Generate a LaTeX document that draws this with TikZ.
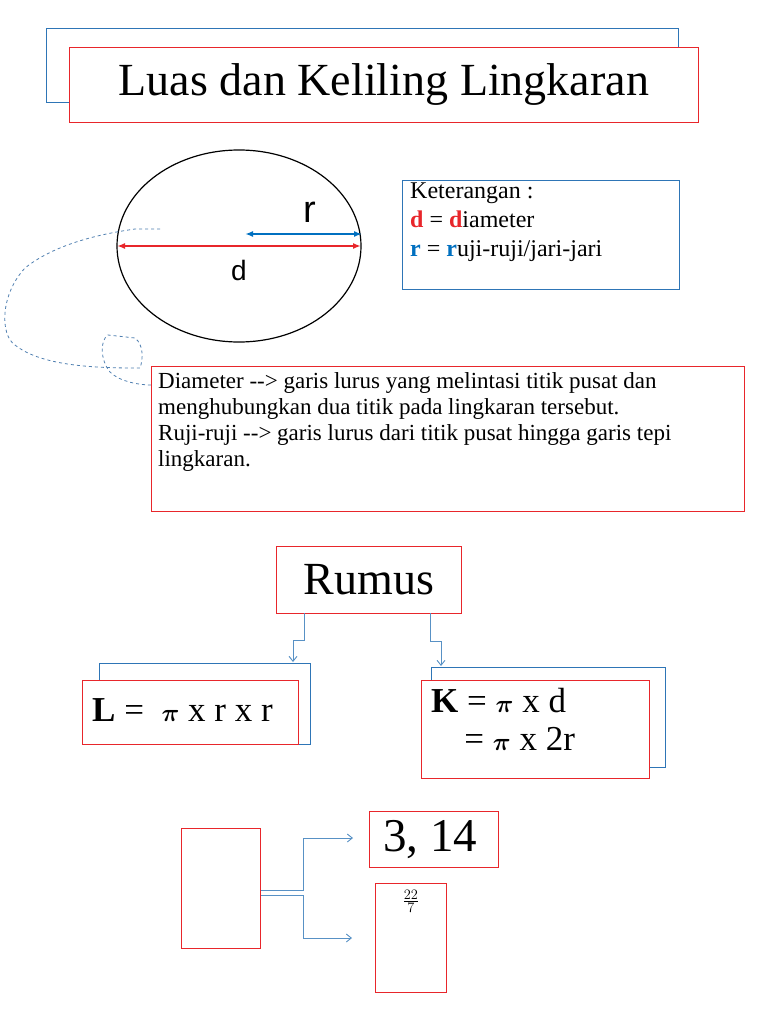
\documentclass[tikz,border=0pt]{standalone}
\usepackage{fontspec}
\usepackage{amsmath,bm}
\setmainfont{Liberation Serif}
\newfontfamily\arialf{Liberation Sans}
\usetikzlibrary{arrows.meta}
\definecolor{rb}{HTML}{E8262B}
\definecolor{bb}{HTML}{2E75B6}
\definecolor{bl}{HTML}{0070C0}
\definecolor{dashc}{HTML}{4F7FB0}
\tikzset{redbox/.style={draw=rb,fill=white,line width=0.9pt},
bluebox/.style={draw=bb,line width=0.9pt},
conn/.style={draw=bb!80,line width=0.9pt,-{Straight Barb[length=5pt,width=8pt]}},
fs/.style={font=\fontsize{#1pt}{1.2\dimexpr #1pt\relax}\selectfont}}
\begin{document}
\begin{tikzpicture}[x=1pt,y=-1pt]
\useasboundingbox (0,0) rectangle (768,1024);
% title
\draw[bluebox] (46,28) rectangle (678,102);
\node[redbox,minimum width=629,minimum height=75,anchor=north west,inner sep=0,fs=46] (title) at (69,47) {Luas dan Keliling Lingkaran};
% circle
\draw[line width=1.2pt] (239,246) ellipse [x radius=122,y radius=96];
\coordinate (dl) at (117,246); \coordinate (dr) at (361,246);
\coordinate (rl) at (245,234); \coordinate (rr) at (362,234);
\draw[rb,line width=2.6pt,{Latex[length=8pt]}-{Latex[length=8pt]}] (dl) -- (dr);
\draw[bl,line width=2.6pt,{Latex[length=8pt]}-{Latex[length=8pt]}] (rl) -- (rr);
\node[font=\arialf\fontsize{28pt}{30pt}\selectfont] (dlab) at (239,270) {d};
\node[font=\arialf\fontsize{38pt}{40pt}\selectfont] (rlab) at (310,212) {r};
% keterangan
\node[bluebox,fill=white,minimum width=277,minimum height=109,anchor=north west,inner sep=0] (ket) at (402,180) {};
\node[anchor=north west,align=left,fs=24,inner sep=0] (kett) at (410,183) {Keterangan :\\
\textcolor{rb}{\textbf{d}} = \textcolor{rb}{\textbf{d}}iameter\\
\textcolor{bl}{\textbf{r}} = \textcolor{bl}{\textbf{r}}uji-ruji/jari-jari};
% definition box
\node[redbox,minimum width=593,minimum height=145,anchor=north west,inner sep=0] (def) at (151,366) {};
\node[anchor=north west,align=left,font=\fontsize{23pt}{26pt}\selectfont,inner sep=0] (deft) at (158,372) {Diameter -\/-> garis lurus yang melintasi titik pusat dan\\
menghubungkan dua titik pada lingkaran tersebut.\\
Ruji-ruji -\/-> garis lurus dari titik pusat hingga garis tepi\\
lingkaran.};
% dashed callout
\draw[dashc,dashed,line width=0.8pt] (160,229) -- (135,229) .. controls (115,232) and (60,240) .. (25,268)
 .. controls (0,295) and (0,335) .. (15,345) .. controls (40,365) and (90,368) .. (135,368)
 -- (140,368) .. controls (143,360) and (144,345) .. (135,338) -- (108,335) .. controls (100,340) and (100,360) .. (110,372)
 .. controls (120,382) and (140,385) .. (151,385);
% rumus
\node[redbox,minimum width=185,minimum height=67,anchor=north west,inner sep=0,fs=46] (rumus) at (276,546) {Rumus};
\draw[bluebox] (99,680) |- (310,663) -- (310,744) -- (298,744);
\node[redbox,minimum width=216,minimum height=64,anchor=north west,inner sep=0] (L) at (82,680) {};
\node[anchor=west,fs=35,inner sep=0] (Lt) at (92,710) {\textbf{L} = ~$\bm{\pi}$ x r x r};
\draw[bluebox] (431,680) |- (665,667) -- (665,767) -- (649,767);
\node[redbox,minimum width=228,minimum height=98,anchor=north west,inner sep=0] (K) at (421,680) {};
\node[anchor=north west,align=left,font=\fontsize{35pt}{38pt}\selectfont,inner sep=0] (Kt) at (431,688) {\textbf{K} = $\bm{\pi}$ x d\\ \hspace{0.95em}= $\bm{\pi}$ x 2r};
\draw[conn] (304,613) -- (304,640) -- (293,640) -- (293,662);
\draw[conn] (430,613) -- (430,641) -- (441,641) -- (441,666);
% bottom
\node[redbox,minimum width=79,minimum height=120,anchor=north west,inner sep=0] (pi) at (181,828) {};
\node[redbox,minimum width=129,minimum height=56,anchor=north west,inner sep=0,fs=47] (v1) at (369,811) {3, 14\,};
\node[redbox,minimum width=71,minimum height=109,anchor=north west,inner sep=0] (v2) at (375,883) {};
\node[fs=19,inner sep=0] (fr) at (411,901) {$\frac{22}{7}$};
\coordinate (a1) at (353,838); \coordinate (a2) at (352,938);
\draw[conn] (pi.east |- 0,890) -- (303,890) |- (a1);
\draw[conn] (pi.east |- 0,895) -- (303,895) |- (a2);
\end{tikzpicture}
\end{document}
